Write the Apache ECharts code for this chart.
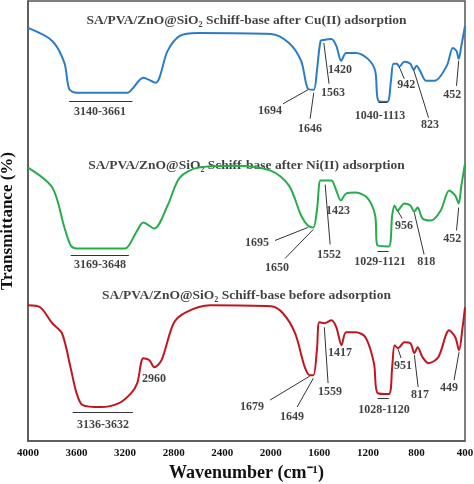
<!DOCTYPE html><html><head><meta charset="utf-8"><script src="https://cdn.jsdelivr.net/npm/echarts@6/dist/echarts.min.js"></script><style>html,body{margin:0;padding:0;background:#fff}#c{width:474px;height:484px}</style></head><body><div id="c"></div><script>
// Wavenumber (cm-1) vs transmittance (arbitrary offset units)
const cuWave=[4000,3800,3700,3661,3600,3400,3180,3140,3050,2950,2850,2750,2600,2000,1850,1750,1694,1646,1620,1590,1563,1500,1460,1420,1380,1300,1200,1140,1113,1040,1010,990,960,942,900,850,823,800,770,720,650,550,500,470,452,430,400];
const cuT=[414,401,379,353,349,349,349,353,364,359,391,406,409,408,399,381,353,352,371,401,402,403,396,381,389,389,383,371,341,340,361,378,378,375,380,378,372,376,371,361,361,376,394,391,383,396,416];
const niWave=[4000,3800,3700,3648,3600,3400,3200,3169,3100,3050,2960,2850,2750,2600,2300,2000,1850,1750,1695,1650,1620,1590,1552,1500,1460,1423,1380,1300,1200,1140,1121,1029,1000,980,956,900,850,818,790,750,680,600,530,480,452,430,400];
const niT=[274,254,214,196,193,193,193,196,211,219,213,236,264,274,276,271,256,226,216,214,231,261,261,261,251,241,248,249,243,226,196,195,226,236,231,238,236,230,234,223,221,231,251,246,238,256,278];
const redWave=[4000,3900,3800,3720,3650,3600,3550,3400,3250,3150,3100,3050,3000,2960,2900,2800,2700,2500,2000,1900,1800,1720,1679,1649,1620,1600,1559,1500,1460,1417,1380,1300,1220,1150,1120,1028,1000,980,951,900,850,817,790,750,700,620,530,480,449,420,400];
const redT=[136,134,118,108,74,48,36,34,38,48,58,83,81,74,81,118,129,136,135,128,108,74,66,66,91,119,118,121,114,96,109,109,104,78,48,47,74,96,93,99,98,88,94,84,78,84,111,104,91,114,134];
const titles=[{t:"SA/PVA/ZnO@SiO₂ Schiff-base after Cu(II) adsorption",w:2200,v:421},{t:"SA/PVA/ZnO@SiO₂ Schiff-base after Ni(II) adsorption",w:2200,v:276},{t:"SA/PVA/ZnO@SiO₂ Schiff-base before adsorption",w:2200,v:146}];
const peakLabels=[["3140-3661",3407,330],["1694",2006,331],["1646",1676,313],["1563",1487,349],["1420",1429,372],["1040-1113",1100,326],["942",885,357],["823",688,317],["452",506,347],
["3169-3648",3407,176],["1695",2113,199],["1650",1948,173],["1552",1520,187],["1423",1446,231],["956",902,216],["1029-1121",1100,180],["818",720,179],["452",506,203],
["3136-3632",3382,16],["2960",2962,62],["1679",2154,34],["1649",1825,24],["1559",1512,49],["1417",1429,88],["951",910,75],["1028-1120",1067,31],["817",770,46],["449",531,53]];
const leaders=[[3661,341,3140,341],[1899,338,1694,352],[1676,323,1646,349],[1520,358,1563,399],[1113,340,1040,340],[900,363,942,375],[700,324,823,372],[470,356,452,381],
[3648,186,3169,186],[1965,201,1695,214],[1882,183,1650,212],[1511,197,1552,257],[918,223,956,231],[1121,190,1029,190],[737,187,818,229],[470,211,452,234],
[3632,29,3136,29],[2006,41,1679,65],[1783,34,1649,63],[1528,58,1559,114],[926,83,951,92],[1120,43,1028,43],[786,54,817,86],[490,61,449,89]];
const xTicks=[4000,3600,3200,2800,2400,2000,1600,1200,800,400];
const zip=(a,b)=>a.map((w,i)=>[w,b[i]]);
const ch=echarts.init(document.getElementById('c'));
const f="'Liberation Serif','Times New Roman',serif";
ch.setOption({animation:false,
grid:{left:28,right:9,top:1,bottom:43,outerBoundsMode:'none',containLabel:false,show:true,borderColor:'#555',borderWidth:1.5},
xAxis:{type:'value',inverse:true,min:400,max:4000,interval:400,
 axisLine:{lineStyle:{color:'#555',width:1.5}},axisTick:{show:false},splitLine:{show:false},
 axisLabel:{color:'#111',fontWeight:'bold',fontFamily:f,fontSize:11,margin:7,showMinLabel:true,showMaxLabel:true,formatter:v=>String(v)},
 name:'Wavenumber (cm⁻¹)',nameLocation:'middle',nameGap:23,nameTextStyle:{fontFamily:f,fontWeight:'bold',fontSize:18,color:'#111'}},
yAxis:{type:'value',min:0,max:441,axisLabel:{show:false},axisTick:{show:false},splitLine:{show:false},
 axisLine:{show:true,lineStyle:{color:'#555',width:1.5}},
 name:'Transmittance (%)',nameLocation:'middle',nameGap:12,nameTextStyle:{fontFamily:f,fontWeight:'bold',fontSize:17,color:'#111'}},
series:[
 {type:'line',data:zip(cuWave,cuT),smooth:0.3,symbol:'none',lineStyle:{color:'#2b7cc6',width:2}},
 {type:'line',data:zip(niWave,niT),smooth:0.3,symbol:'none',lineStyle:{color:'#25ad4a',width:2}},
 {type:'line',data:zip(redWave,redT),smooth:0.3,symbol:'none',lineStyle:{color:'#c1161f',width:2}},
 {type:'scatter',symbolSize:0,data:peakLabels.map(p=>({value:[p[1],p[2]],name:p[0]})),
  label:{show:true,position:'inside',formatter:'{b}',color:'#111',fontFamily:f,fontWeight:'bold',fontSize:12},
  markLine:{silent:true,symbol:'none',lineStyle:{color:'#333',width:1,type:'solid'},label:{show:false},
   data:leaders.map(l=>[{coord:[l[0],l[1]]},{coord:[l[2],l[3]]}])}},
 {type:'scatter',symbolSize:0,data:titles.map(p=>({value:[p.w,p.v],name:p.t})),
  label:{show:true,position:'inside',formatter:'{b}',color:'#111',fontFamily:f,fontWeight:'bold',fontSize:13.5}}
]});
</script></body></html>
